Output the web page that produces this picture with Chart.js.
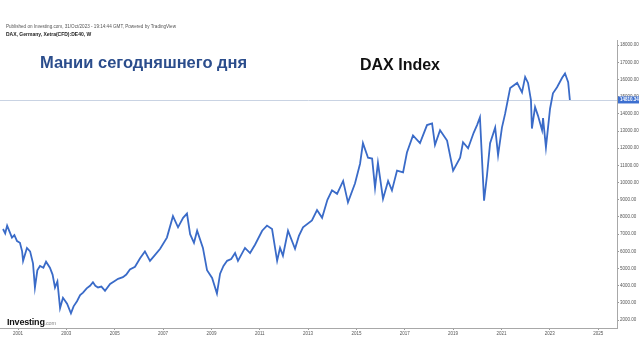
<!DOCTYPE html>
<html>
<head>
<meta charset="utf-8">
<script src="https://cdn.jsdelivr.net/npm/chart.js@4.4.0/dist/chart.umd.min.js"></script>
<style>
    html, body { margin: 0; padding: 0; background: #fff; }
    #wrap { position: relative; width: 640px; height: 360px; overflow: hidden; font-family: "Liberation Sans", Arial, sans-serif; }
    #chartjs { position: absolute; left: 0; top: 0; }
    .txt { position: absolute; white-space: nowrap; line-height: 1; }
    #published { left: 6px; top: 25px; font-size: 4.6px; color: #555; }
    #symbol { left: 6px; top: 32px; font-size: 5px; font-weight: bold; color: #222; }
    #title { left: 40px; top: 54px; font-size: 16.5px; font-weight: bold; color: #2b4d8c; }
    #dax { left: 360px; top: 57px; font-size: 16px; font-weight: bold; color: #111; }
    #logo { left: 7px; top: 318px; font-size: 9px; font-weight: bold; color: #111; letter-spacing: -0.2px; }
    #logo span { font-size: 5.5px; font-weight: normal; color: #888; }
</style>
</head>
<body>
<div id="wrap">
    <canvas id="chartjs" width="640" height="360"></canvas>
    <div class="txt" id="published">Published on Investing.com, 31/Oct/2023 - 19:14:44 GMT, Powered by TradingView</div>
    <div class="txt" id="symbol">DAX, Germany, Xetra(CFD):DE40, W</div>
    <div class="txt" id="title">Мании сегодняшнего дня</div>
    <div class="txt" id="dax">DAX Index</div>
    <div class="txt" id="logo">Investing<span>.com</span></div>
</div>
<script>
// weekly closes (decimal year / index value)
const years = [
    2000.38, 2000.47, 2000.55, 2000.65, 2000.75, 2000.85, 2000.96, 2001.08, 2001.17, 2001.21,
    2001.37, 2001.50, 2001.62, 2001.70, 2001.80, 2001.91, 2002.05, 2002.16, 2002.32, 2002.43,
    2002.53, 2002.63, 2002.74, 2002.86, 2003.03, 2003.19, 2003.30, 2003.44, 2003.57, 2003.69,
    2003.84, 2003.98, 2004.10, 2004.20, 2004.31, 2004.45, 2004.60, 2004.81, 2004.97, 2005.14,
    2005.34, 2005.48, 2005.63, 2005.84, 2006.05, 2006.25, 2006.46, 2006.67, 2006.88, 2007.16,
    2007.41, 2007.62, 2007.83, 2007.99, 2008.12, 2008.28, 2008.41, 2008.65, 2008.82, 2009.03,
    2009.23, 2009.36, 2009.50, 2009.65, 2009.82, 2009.98, 2010.10, 2010.39, 2010.60, 2010.81,
    2011.10, 2011.30, 2011.51, 2011.72, 2011.84, 2011.96, 2012.17, 2012.46, 2012.62, 2012.79,
    2013.16, 2013.37, 2013.58, 2013.80, 2013.99, 2014.20, 2014.45, 2014.65, 2014.94, 2015.15,
    2015.27, 2015.48, 2015.65, 2015.77, 2015.89, 2016.10, 2016.31, 2016.47, 2016.68, 2016.93,
    2017.09, 2017.34, 2017.63, 2017.92, 2018.13, 2018.25, 2018.46, 2018.75, 2019.00, 2019.29,
    2019.41, 2019.62, 2019.85, 2019.99, 2020.11, 2020.28, 2020.40, 2020.53, 2020.74, 2020.86,
    2021.02, 2021.15, 2021.36, 2021.65, 2021.85, 2021.98, 2022.10, 2022.22, 2022.26, 2022.39,
    2022.51, 2022.68, 2022.72, 2022.84, 2023.01, 2023.13, 2023.30, 2023.51, 2023.63, 2023.76,
    2023.83
];
const closes = [
    7300, 7050, 7500, 7150, 6800, 6950, 6600, 6500, 6000, 5450,
    6200, 6000, 5300, 3900, 4900, 5150, 5050, 5400, 5050, 4650,
    3900, 4250, 2700, 3300, 2950, 2400, 2800, 3100, 3450, 3600,
    3850, 4000, 4200, 4000, 3900, 3950, 3700, 4100, 4250, 4400,
    4500, 4650, 4950, 5100, 5600, 6000, 5450, 5800, 6150, 6800,
    8050, 7400, 7950, 8200, 7000, 6500, 7200, 6200, 4900, 4450,
    3550, 4700, 5150, 5450, 5550, 5900, 5450, 6200, 5900, 6400,
    7200, 7500, 7300, 5450, 6200, 5750, 7200, 6150, 6900, 7400,
    7800, 8400, 7950, 9000, 9550, 9350, 10100, 8850, 9950, 11100,
    12300, 11450, 11400, 9700, 11150, 9050, 10100, 9550, 10700, 10600,
    11750, 12750, 12300, 13350, 13450, 12200, 13050, 12450, 10700, 11450,
    12350, 12000, 12900, 13350, 13800, 8950, 10400, 12300, 13200, 11600,
    13200, 14000, 15500, 15800, 15250, 16150, 15800, 14800, 13150, 14400,
    13900, 13050, 13750, 12050, 14300, 15200, 15550, 16100, 16350, 15850,
    14810.34
];
const yearTicks = [2001, 2003, 2005, 2007, 2009, 2011, 2013, 2015, 2017, 2019, 2021, 2023, 2025];
const priceTicks = [2000, 3000, 4000, 5000, 6000, 7000, 8000, 9000, 10000, 11000,
    12000, 13000, 14000, 15000, 16000, 17000, 18000];
const lastPrice = 14810.34;

const ctx = document.getElementById("chartjs").getContext("2d");

const lastPriceLine = {
    id: 'lastPriceLine',
    beforeDatasetsDraw(chart) {
        const c = chart.ctx, a = chart.chartArea;
        const y = chart.scales.y.getPixelForValue(lastPrice);
        c.save();
        c.strokeStyle = '#c9d3e3';
        c.lineWidth = 1;
        c.beginPath();
        c.moveTo(a.left, Math.round(y) + 0.5);
        c.lineTo(a.right, Math.round(y) + 0.5);
        c.stroke();
        c.restore();
    },
    afterDraw(chart) {
        const c = chart.ctx, a = chart.chartArea;
        const y = chart.scales.y.getPixelForValue(lastPrice);
        c.save();
        c.fillStyle = '#3c6fd0';
        c.fillRect(a.right + 1, y - 3.5, 21, 7);
        c.fillStyle = '#fff';
        c.font = 'bold 4.5px "Liberation Sans", Arial';
        c.textBaseline = 'middle';
        c.fillText(lastPrice.toFixed(2), a.right + 3, y + 0.3);
        c.restore();
    }
};

const chart = new Chart(ctx, {
    type: 'line',
    data: {
        datasets: [
            {
                label: "DAX",
                data: years.map((x, i) => ({ x: x, y: closes[i] })),
                borderColor: "#3a6bc8",
                borderWidth: 1.8,
                pointRadius: 0,
                tension: 0,
                fill: false
            }
        ]
    },
    options: {
        responsive: false,
        animation: false,
        layout: { padding: { left: 0, right: 0, top: 40, bottom: 20 } },
        plugins: {
            legend: { display: false },
            tooltip: { enabled: false }
        },
        scales: {
            x: {
                type: 'linear',
                min: 2000.255,
                max: 2025.78,
                afterBuildTicks: (scale) => { scale.ticks = yearTicks.map(v => ({ value: v })); },
                afterFit: (scale) => { scale.height = 12; },
                grid: { drawOnChartArea: false, color: '#999', tickLength: 2 },
                border: { color: '#a8a8a8' },
                ticks: {
                    color: '#555',
                    font: { size: 4.5, family: '"Liberation Sans", Arial' },
                    padding: 1,
                    maxRotation: 0,
                    autoSkip: false,
                    callback: (v) => String(v)
                }
            },
            y: {
                position: 'right',
                min: 1540,
                max: 18300,
                afterBuildTicks: (scale) => { scale.ticks = priceTicks.map(v => ({ value: v })); },
                afterFit: (scale) => { scale.width = 23; },
                grid: { drawOnChartArea: false, color: '#999', tickLength: 2 },
                border: { color: '#a8a8a8' },
                ticks: {
                    color: '#555',
                    font: { size: 4.5, family: '"Liberation Sans", Arial' },
                    padding: 1,
                    autoSkip: false,
                    callback: (v) => v.toFixed(2)
                }
            }
        }
    },
    plugins: [lastPriceLine]
});
</script>
</body>
</html>
